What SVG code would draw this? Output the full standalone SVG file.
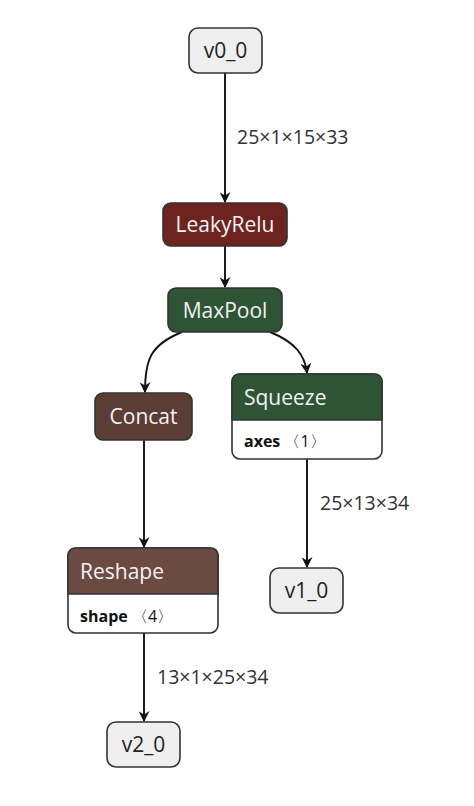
<svg xmlns="http://www.w3.org/2000/svg" width="474" height="806" viewBox="0 0 474 806">
<defs>
<marker id="arr" viewBox="0 0 10 10" refX="9" refY="5" markerWidth="11" markerHeight="11" markerUnits="userSpaceOnUse" orient="auto">
<path d="M0,0 L10,5 L0,10 L3,5 z" fill="#111"/>
</marker>
<style>
.io{fill:#efefef;stroke:#333;stroke-width:1.6}
.op{stroke:#333;stroke-width:1.6}
.t{font-family:"Open Sans","Noto Sans",sans-serif;font-size:21px}
.lt{fill:#f2f2f2}
.dk{fill:#222}
.el{font-family:"Open Sans","Noto Sans",sans-serif;font-size:19.5px;fill:#333}
.at{font-family:"Open Sans","Noto Sans",sans-serif;font-size:16px;fill:#111}
.e{fill:none;stroke:#111;stroke-width:1.9;marker-end:url(#arr)}
</style>
</defs>
<rect width="474" height="806" fill="#fff"/>
<g id="edges">
<path class="e" d="M225,73 V202"/>
<path class="e" d="M225,246 V287"/>
<path class="e" d="M182,332 C150,345 145,360 145,392"/>
<path class="e" d="M270,332 C295,342 305,355 307,373"/>
<path class="e" d="M144,440 V547"/>
<path class="e" d="M307,459 V567"/>
<path class="e" d="M144,633 V721"/>
<text class="el" x="237" y="144">25×1×15×33</text>
<text class="el" x="320" y="510">25×13×34</text>
<text class="el" x="157" y="684">13×1×25×34</text>
</g>
<g id="v0_0">
<rect class="io" x="189" y="28" width="73" height="45" rx="9"/>
<text class="t dk" x="225.5" y="58" text-anchor="middle">v0_0</text>
</g>
<g id="LeakyRelu">
<rect class="op" x="163" y="203" width="124" height="43" rx="8" fill="#6d2420"/>
<text class="t lt" x="225" y="232" text-anchor="middle">LeakyRelu</text>
</g>
<g id="MaxPool">
<rect class="op" x="168" y="288" width="114" height="44" rx="8" fill="#2f5435"/>
<text class="t lt" x="225" y="317.5" text-anchor="middle">MaxPool</text>
</g>
<g id="Concat">
<rect class="op" x="95" y="393" width="97" height="47" rx="8" fill="#5b3d35"/>
<text class="t lt" x="143.5" y="424" text-anchor="middle">Concat</text>
</g>
<g id="Squeeze">
<rect x="232" y="374" width="150" height="85" rx="8" fill="#fff" stroke="#333" stroke-width="1.6"/>
<path d="M232,420 V382 Q232,374 240,374 H374 Q382,374 382,382 V420 Z" fill="#2f5435" stroke="#333" stroke-width="1.6"/>
<text class="t lt" x="244" y="405">Squeeze</text>
<text class="at" x="244" y="447"><tspan font-weight="bold">axes</tspan> 〈1〉</text>
</g>
<g id="v1_0">
<rect class="io" x="270" y="568" width="73" height="45" rx="9"/>
<text class="t dk" x="306.5" y="598" text-anchor="middle">v1_0</text>
</g>
<g id="Reshape">
<rect x="68" y="548" width="150" height="85" rx="8" fill="#fff" stroke="#333" stroke-width="1.6"/>
<path d="M68,594 V556 Q68,548 76,548 H210 Q218,548 218,556 V594 Z" fill="#6b4a41" stroke="#333" stroke-width="1.6"/>
<text class="t lt" x="80" y="579">Reshape</text>
<text class="at" x="80" y="622"><tspan font-weight="bold">shape</tspan> 〈4〉</text>
</g>
<g id="v2_0">
<rect class="io" x="107" y="722" width="73" height="45" rx="9"/>
<text class="t dk" x="143.5" y="752" text-anchor="middle">v2_0</text>
</g>
</svg>
